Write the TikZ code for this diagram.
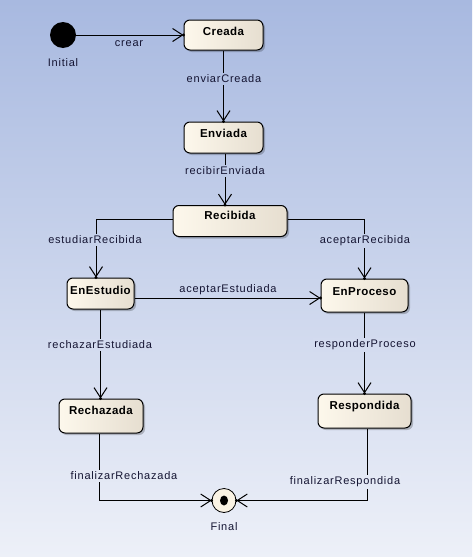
\documentclass[tikz,border=0pt]{standalone}
\usepackage{fontspec}
\setmainfont{Liberation Sans}
\newfontfamily\lblfont[LetterSpace=7]{Liberation Sans}
\newfontfamily\stfont[LetterSpace=4]{Liberation Sans}
\usetikzlibrary{arrows.meta,shadows}
\definecolor{bgtop}{RGB}{168,185,224}
\definecolor{bgbot}{RGB}{237,240,248}
\definecolor{stl}{RGB}{253,248,236}
\definecolor{str}{RGB}{230,222,208}
\definecolor{cream}{RGB}{250,243,228}
\definecolor{lbl}{RGB}{20,20,50}
\tikzset{
 st/.style={draw=black, line width=1pt, rounded corners=6pt, left color=stl, right color=str,
   inner xsep=0pt, inner ysep=0pt, text height=15pt, text=black,
   font=\stfont\fontsize{11.5}{13}\selectfont\bfseries,
   drop shadow={shadow xshift=2pt, shadow yshift=-2pt, fill=black, opacity=0.22}},
 tr/.style={draw=black, line width=1pt, -{Straight Barb[length=10pt,width=13pt,line width=1pt]}},
 lb/.style={font=\lblfont\fontsize{11}{13}\selectfont, text=lbl, inner xsep=1pt, inner ysep=1.5pt},
 tipdot/.style={fill=black},
}
\begin{document}
\begin{tikzpicture}[x=1pt,y=-1pt]
\useasboundingbox (0,0) rectangle (472,557);
\shade[top color=bgtop,bottom color=bgbot] (0,0) rectangle (472,557);

% states
\node[circle, fill=black, minimum size=26pt, inner sep=0pt] (init) at (63,35) {};
\node[lb] (initlbl) at (63,63) {Initial};
\node[st, minimum width=79pt, minimum height=30pt, text depth=15pt] (creada) at (223.5,35) {Creada};
\node[st, minimum width=79pt, minimum height=31pt, text depth=16pt] (enviada) at (223.5,137.5) {Enviada};
\node[st, minimum width=114pt, minimum height=31pt, text height=13.5pt, text depth=17.5pt] (recibida) at (230,221) {Recibida};
\node[st, minimum width=67pt, minimum height=31pt, text height=16pt, text depth=15pt] (enestudio) at (100.5,293.5) {EnEstudio};
\node[st, minimum width=87pt, minimum height=33pt, text height=16pt, text depth=17pt] (enproceso) at (364.5,295.5) {EnProceso};
\node[st, minimum width=84pt, minimum height=34pt, text depth=19pt] (rechazada) at (101,416) {Rechazada};
\node[st, minimum width=93pt, minimum height=34pt, text depth=19pt] (respondida) at (364.5,411) {Respondida};
\node[circle, draw=black, line width=0.8pt, fill=cream, minimum size=24pt, inner sep=0pt] (fin) at (224,500.5) {};
\fill (fin.center) ellipse (4pt and 5pt);
\node[lb] (finlbl) at (224,527) {Final};

% transitions
\draw[tr] (init.east) -- (creada.west);
\draw[tr] (creada.south) -- (enviada.north);
\draw[tr] ([xshift=1.5pt]enviada.south) -- ([xshift=1.5pt]enviada.south |- recibida.north) coordinate (t3);
\draw[tr] ([yshift=2pt]recibida.west) -| ([xshift=-4.5pt]enestudio.north) coordinate (t4);
\draw[tr] ([yshift=2pt]recibida.east) -| (enproceso.north);
\draw[tr] ([yshift=-4.5pt]enestudio.east) -- ([yshift=-4.5pt]enestudio.east -| enproceso.west) coordinate (t6);
\draw[tr] (enestudio.south) -- (enestudio.south |- rechazada.north) coordinate (t7);
\draw[tr] (enproceso.south) -- (respondida.north);
\draw[tr] ([xshift=-2pt]rechazada.south) |- (fin.west);
\draw[tr] ([xshift=2.5pt]respondida.south) |- (fin.east);

% tip dots
\foreach \p in {creada.west, enviada.north, t3, t4, enproceso.north, t6, t7, respondida.north, fin.west, fin.east}
  \fill[tipdot] (\p) circle (1.6pt);

% labels
\node[lb] (l1) at (129,44) {crear};
\node[lb, fill=bgtop!86!bgbot] (l2) at (224,79) {enviarCreada};
\node[lb, fill=bgtop!69!bgbot] (l3) at (225,171) {recibirEnviada};
\node[lb, fill=bgtop!57!bgbot] (l4) at (95,240) {estudiarRecibida};
\node[lb, fill=bgtop!57!bgbot] (l5) at (365,241) {aceptarRecibida};
\node[lb] (l6) at (228,290) {aceptarEstudiada};
\node[lb, fill=bgtop!38!bgbot] (l7) at (100,345) {rechazarEstudiada};
\node[lb, fill=bgtop!38!bgbot] (l8) at (365,345) {responderProceso};
\node[lb, fill=bgtop!15!bgbot] (l9) at (124,476) {finalizarRechazada};
\node[lb, fill=bgtop!13!bgbot] (l10) at (345,482) {finalizarRespondida};
\end{tikzpicture}
\end{document}
